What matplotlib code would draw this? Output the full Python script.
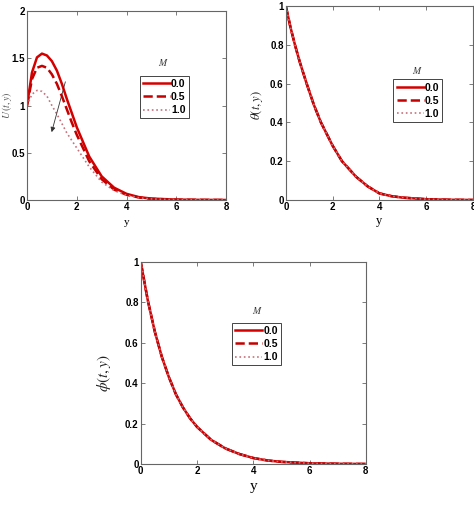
"""Perfiles de velocidad, temperatura y concentracion para varios M."""

import matplotlib

matplotlib.use("Agg")
import matplotlib.pyplot as plt

plt.rcParams["font.family"] = ["Liberation Sans", "DejaVu Sans"]
plt.rcParams["mathtext.fontset"] = "stix"

M_LABELS = ["0.0", "0.5", "1.0"]

# velocidad U(t, y)
Y_U = [0.0, 0.2, 0.4, 0.6, 0.8, 1.0, 1.2, 1.4, 1.6, 1.8, 2.0, 2.5, 3.0, 3.5, 4.0, 4.5, 5.0, 6.0, 7.0, 8.0]
U_M0 = [1.0, 1.35, 1.51, 1.55, 1.53, 1.47, 1.37, 1.23, 1.07, 0.92, 0.77, 0.46, 0.25, 0.13, 0.065, 0.03, 0.015, 0.004, 0.001, 0.0]
U_M05 = [1.0, 1.28, 1.40, 1.42, 1.40, 1.33, 1.23, 1.10, 0.96, 0.82, 0.69, 0.41, 0.22, 0.11, 0.055, 0.026, 0.012, 0.003, 0.001, 0.0]
U_M1 = [1.0, 1.12, 1.16, 1.15, 1.10, 1.00, 0.91, 0.81, 0.71, 0.63, 0.55, 0.35, 0.19, 0.10, 0.05, 0.023, 0.011, 0.003, 0.001, 0.0]

# temperatura theta(t, y), igual para todo M
Y_THETA = [0.0, 0.2, 0.39, 0.6, 0.89, 1.2, 1.5, 2.0, 2.4, 3.0, 3.5, 4.0, 4.5, 5.0, 6.0, 7.0, 8.0]
THETA = [1.0, 0.89, 0.80, 0.71, 0.60, 0.49, 0.40, 0.28, 0.20, 0.12, 0.07, 0.034, 0.02, 0.012, 0.004, 0.001, 0.0]

# concentracion phi(t, y), igual para todo M
Y_PHI = [0.0, 0.25, 0.5, 0.75, 1.0, 1.25, 1.5, 1.75, 2.0, 2.5, 3.0, 3.5, 4.0, 4.5, 5.0, 6.0, 7.0, 8.0]
PHI = [1.0, 0.81, 0.655, 0.53, 0.43, 0.345, 0.28, 0.227, 0.184, 0.12, 0.078, 0.05, 0.030, 0.018, 0.011, 0.004, 0.0015, 0.0005]

STYLES = [
    dict(color="#d40000", linestyle="-", linewidth=1.8),
    dict(color="#c40000", linestyle="--", linewidth=1.8),
    dict(color="#c8707a", linestyle=":", linewidth=1.2),
]
SPINE = "#666666"


def style_axes(ax, ylim, yticks, yticklabels):
    ax.set_xlim(0, 8)
    ax.set_ylim(*ylim)
    ax.set_xticks([0, 2, 4, 6, 8])
    ax.set_yticks(yticks)
    ax.set_yticklabels(yticklabels)
    ax.tick_params(direction="in", length=3, width=0.6, top=True, right=True,
                   labelsize=7, pad=1.5, colors=SPINE, labelcolor="black")
    for label in ax.get_xticklabels() + ax.get_yticklabels():
        label.set_fontweight("bold")
    for spine in ax.spines.values():
        spine.set_color(SPINE)
        spine.set_linewidth(0.8)


def add_legend(ax, lines, x0, y0, w, h, title_xy):
    leg = ax.legend(lines, M_LABELS, loc="center", bbox_to_anchor=(x0, y0, w, h),
                    bbox_transform=ax.transAxes, fontsize=7.5, frameon=True,
                    fancybox=False, edgecolor="#444444", framealpha=1,
                    handlelength=2.6, handletextpad=0.1, borderpad=0.3,
                    labelspacing=0.3, borderaxespad=0)
    leg.get_frame().set_linewidth(0.7)
    for text in leg.get_texts():
        text.set_fontweight("bold")
    ax.text(*title_xy, r"$M$", transform=ax.transAxes, ha="center", va="center",
            fontsize=7, color="#333333")


fig = plt.figure(figsize=(4.74, 5.05), dpi=100)

# panel U
ax1 = fig.add_axes([0.057, 0.604, 0.42, 0.374])
lines = []
for values, st in zip([U_M0, U_M05, U_M1], STYLES):
    lines.append(ax1.plot(Y_U, values, **st)[0])
style_axes(ax1, (0, 2), [0, 0.5, 1, 1.5, 2], ["0", "0.5", "1", "1.5", "2"])
ax1.annotate("", xy=(0.96, 0.69), xytext=(1.57, 1.28),
             arrowprops=dict(arrowstyle="-|>", color="#333333", lw=0.6, mutation_scale=7))
ax1.set_xlabel("y", family="Liberation Serif", fontsize=8, labelpad=4)
ax1.set_ylabel(r"$U\,(t,y)$", fontsize=7, color="#555555")
ax1.yaxis.set_label_coords(-0.065, 0.5)
add_legend(ax1, lines, 0.588, 0.434, 0.201, 0.222, (0.683, 0.73))

# panel theta
ax2 = fig.add_axes([0.603, 0.604, 0.395, 0.384])
lines = []
for st in STYLES:
    lines.append(ax2.plot(Y_THETA, THETA, **st)[0])
style_axes(ax2, (0, 1), [0, 0.2, 0.4, 0.6, 0.8, 1], ["0", "0.2", "0.4", "0.6", "0.8", "1"])
ax2.set_xlabel("y", family="Liberation Serif", fontsize=9, labelpad=2)
ax2.set_ylabel(r"$\theta(t,y)$", fontsize=9, color="#222222")
ax2.yaxis.set_label_coords(-0.11, 0.49)
add_legend(ax2, lines, 0.61, 0.40, 0.19, 0.224, (0.70, 0.67))

# panel phi
ax3 = fig.add_axes([0.297, 0.081, 0.475, 0.40])
lines = []
for st in STYLES:
    lines.append(ax3.plot(Y_PHI, PHI, **st)[0])
style_axes(ax3, (0, 1), [0, 0.2, 0.4, 0.6, 0.8, 1], ["0", "0.2", "0.4", "0.6", "0.8", "1"])
ax3.set_xlabel("y", family="Liberation Serif", fontsize=11, labelpad=3)
ax3.set_ylabel(r"$\phi(t,y)$", fontsize=11, color="#222222")
ax3.yaxis.set_label_coords(-0.125, 0.45)
add_legend(ax3, lines, 0.409, 0.475, 0.209, 0.238, (0.516, 0.762))

fig.savefig("out.png", dpi=100)
